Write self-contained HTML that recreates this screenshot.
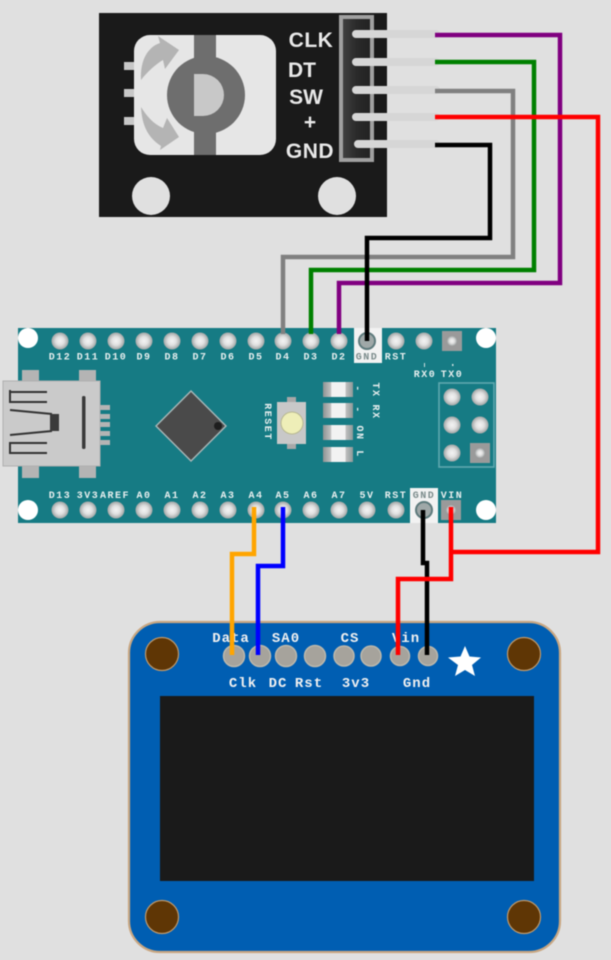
<!DOCTYPE html>
<html><head><meta charset="utf-8"><style>
html,body{margin:0;padding:0;background:#e0e0e0;width:611px;height:960px;overflow:hidden}
svg{display:block;filter:blur(.6px)}
.e{font:bold 21px "Liberation Sans",sans-serif;fill:#e8e8e8;text-anchor:middle}
.n{font:bold 10px "Liberation Mono",monospace;fill:#e6eeee;text-anchor:middle;letter-spacing:1.5px}
.o{font:bold 14px "Liberation Mono",monospace;fill:#f0f0f0;text-anchor:middle;letter-spacing:1px}
.w{fill:none;stroke-width:4.5;stroke-linejoin:miter}
</style></head><body>
<svg width="611" height="960" viewBox="0 0 611 960" xmlns="http://www.w3.org/2000/svg">
<defs>
<radialGradient id="p"><stop offset="0" stop-color="#f4f4f4"/><stop offset=".5" stop-color="#e0e0e0"/><stop offset="1" stop-color="#a0a4a4"/></radialGradient>
<linearGradient id="h" x1="0" x2="1"><stop offset="0" stop-color="#444"/><stop offset=".5" stop-color="#2a2a2a"/><stop offset="1" stop-color="#222"/></linearGradient>
<linearGradient id="l" x1="0" x2="1"><stop offset="0" stop-color="#8e9292"/><stop offset=".27" stop-color="#c4c4c4"/><stop offset=".28" stop-color="#f2f2f2"/><stop offset=".75" stop-color="#f2f2f2"/><stop offset=".76" stop-color="#c0c0c0"/><stop offset="1" stop-color="#8e9898"/></linearGradient>
</defs>
<rect width="611" height="960" fill="#e0e0e0"/>

<!-- Encoder -->
<rect x="99" y="13" width="288" height="204" fill="#1a1a1a"/>
<g fill="#c8c8c8"><rect x="124" y="62" width="11" height="8"/><rect x="124" y="89" width="11" height="8"/><rect x="124" y="117" width="11" height="8"/></g>
<rect x="134" y="35" width="142" height="120" rx="16" fill="#e6e6e6"/>
<rect x="194" y="35" width="22" height="120" fill="#6e6e6e"/>
<circle cx="206" cy="95" r="39" fill="#6e6e6e"/>
<path d="M194 74h9a21 21 0 0 1 0 42h-9z" fill="#c8c8c8"/>
<path d="M141 80C140 60 148 47 160 43L158 36 179 50 165 69 163 60C156 64 147 72 141 80Z" fill="#b4b4b4"/>
<path d="M141 107C142 128 150 139 161 146L160 150 179 137 167 118 163 128C153 124 146 115 141 107Z" fill="#b4b4b4"/>
<circle cx="151" cy="196" r="19" fill="#e0e0e0"/><circle cx="337" cy="196" r="19" fill="#e0e0e0"/>
<text class="e" x="311" y="47" style="letter-spacing:.5px">CLK</text>
<text class="e" x="302" y="77">DT</text>
<text class="e" x="306" y="104">SW</text>
<text class="e" x="310" y="129">+</text>
<text class="e" x="310" y="158" style="letter-spacing:.5px">GND</text>
<rect x="341" y="17" width="31" height="143" fill="url(#h)" stroke="#a0a0a0" stroke-width="4"/>
<g fill="#a0a0a0"><rect x="370" y="15" width="4" height="147"/></g>
<g stroke="#d6d6d6" stroke-width="8" stroke-linecap="round"><path d="M356 34H436M356 62H436M356 90H436M356 117H436M358 144H436"/></g>

<!-- Nano -->
<rect x="18" y="328" width="478" height="195" fill="#167b84"/>
<rect x="354" y="328" width="28" height="35" fill="#f2f2f2"/>
<rect x="410" y="488" width="28" height="35" fill="#f2f2f2"/>
<g fill="#fff"><circle cx="28" cy="338" r="10"/><circle cx="28" cy="510" r="10"/><circle cx="486" cy="338" r="10"/><circle cx="486" cy="510" r="10"/></g>
<g fill="url(#p)">
<circle cx="60" cy="341" r="8.5"/><circle cx="88" cy="341" r="8.5"/><circle cx="116" cy="341" r="8.5"/><circle cx="144" cy="341" r="8.5"/><circle cx="172" cy="341" r="8.5"/><circle cx="200" cy="341" r="8.5"/><circle cx="228" cy="341" r="8.5"/><circle cx="256" cy="341" r="8.5"/><circle cx="283" cy="341" r="8.5"/><circle cx="311" cy="341" r="8.5"/><circle cx="339" cy="341" r="8.5"/><circle cx="396" cy="341" r="8.5"/><circle cx="424" cy="341" r="8.5"/>
<circle cx="60" cy="510" r="8.5"/><circle cx="88" cy="510" r="8.5"/><circle cx="116" cy="510" r="8.5"/><circle cx="144" cy="510" r="8.5"/><circle cx="172" cy="510" r="8.5"/><circle cx="200" cy="510" r="8.5"/><circle cx="228" cy="510" r="8.5"/><circle cx="256" cy="510" r="8.5"/><circle cx="283" cy="510" r="8.5"/><circle cx="311" cy="510" r="8.5"/><circle cx="339" cy="510" r="8.5"/><circle cx="367" cy="510" r="8.5"/><circle cx="396" cy="510" r="8.5"/>
<circle cx="452" cy="397" r="8.5"/><circle cx="480" cy="397" r="8.5"/><circle cx="452" cy="425" r="8.5"/><circle cx="480" cy="425" r="8.5"/><circle cx="452" cy="453" r="8.5"/>
</g>
<g fill="#9a9a9a"><rect x="442" y="331" width="20" height="20"/><rect x="441" y="500" width="20" height="20"/><rect x="470" y="443" width="20" height="20"/></g>
<g fill="url(#p)"><circle cx="452" cy="341" r="5"/><circle cx="451" cy="510" r="5"/><circle cx="480" cy="453" r="5"/></g>
<circle cx="367" cy="341" r="8" fill="#9fa8a8" stroke="#5d7a7c" stroke-width="2"/>
<circle cx="424" cy="510" r="8" fill="#9fa8a8" stroke="#5d7a7c" stroke-width="2"/>
<rect x="439" y="383" width="55" height="84" fill="none" stroke="#5fa8ae" stroke-width="1.6"/>
<g fill="#cfe0e0"><rect x="424" y="363" width="1" height="4"/><rect x="452" y="364" width="1.500" height="2"/></g>
<text class="n" x="60" y="359.500">D12</text><text class="n" x="88" y="359.500">D11</text><text class="n" x="116" y="359.500">D10</text><text class="n" x="144" y="359.500">D9</text><text class="n" x="172" y="359.500">D8</text><text class="n" x="200" y="359.500">D7</text><text class="n" x="228" y="359.500">D6</text><text class="n" x="256" y="359.500">D5</text><text class="n" x="283" y="359.500">D4</text><text class="n" x="311" y="359.500">D3</text><text class="n" x="339" y="359.500">D2</text><text class="n" x="396" y="359.500">RST</text>
<text class="n" x="425" y="377">RX0</text><text class="n" x="452" y="377">TX0</text>
<text class="n" x="60" y="498">D13</text><text class="n" x="88" y="498">3V3</text><text class="n" x="115" y="498">AREF</text><text class="n" x="144" y="498">A0</text><text class="n" x="172" y="498">A1</text><text class="n" x="200" y="498">A2</text><text class="n" x="228" y="498">A3</text><text class="n" x="256" y="498">A4</text><text class="n" x="283" y="498">A5</text><text class="n" x="311" y="498">A6</text><text class="n" x="339" y="498">A7</text><text class="n" x="367" y="498">5V</text><text class="n" x="396" y="498">RST</text><text class="n" x="452" y="498">VIN</text>
<text class="n" x="367" y="359.500" style="fill:#7c8c8c">GND</text>
<text class="n" x="424" y="498" style="fill:#7c8c8c">GND</text>

<!-- USB -->
<g fill="#b4b4b4"><rect x="22" y="370" width="17" height="108"/><rect x="79" y="370" width="17" height="108"/></g>
<g fill="#b4b4b4"><rect x="100" y="405" width="10" height="5"/><rect x="100" y="414" width="10" height="5"/><rect x="100" y="422" width="10" height="5"/><rect x="100" y="431" width="10" height="5"/><rect x="100" y="440" width="10" height="5"/></g>
<rect x="3" y="381" width="97" height="85" fill="#cacaca" stroke="#b0b0b0"/>
<path d="M47 392H10V402H47M10 390v13M47 443H10V453H47M10 442v12" fill="none" stroke="#333" stroke-width="2"/>
<path d="M10 410L52 414M10 435L52 431" stroke="#333" stroke-width="2"/>
<rect x="50" y="414" width="9" height="17" fill="#3a3a3a"/>
<rect x="82" y="396" width="3.5" height="53" rx="1.5" fill="#3a3a3a"/>

<!-- Chip -->
<path d="M191 390L227 426 191 462 155 426Z" fill="#a8b8b8"/>
<path d="M191 392L225 426 191 460 157 426Z" fill="#4a4a4a"/>
<circle cx="218" cy="426" r="4" fill="#1e1e1e"/>

<!-- Button -->
<rect x="287" y="397" width="9" height="52" fill="#a8a8a8"/>
<rect x="277" y="402" width="29" height="42" fill="#c8c8c8"/>
<circle cx="292" cy="423" r="11" fill="#eeeeb8" stroke="#b8b890"/>
<text class="n" transform="translate(268 422) rotate(90)" y="3">RESET</text>

<!-- LEDs -->
<g fill="url(#l)"><rect x="323" y="382" width="30" height="15"/><rect x="323" y="403" width="30" height="15"/><rect x="323" y="425" width="30" height="15"/><rect x="323" y="447" width="30" height="15"/></g>
<text class="n" transform="translate(358 389) rotate(90)" y="3">-</text><text class="n" transform="translate(358 410) rotate(90)" y="3">-</text><text class="n" transform="translate(360 433) rotate(90)" y="3">ON</text><text class="n" transform="translate(360 454) rotate(90)" y="3">L</text><text class="n" transform="translate(376 390) rotate(90)" y="3">TX</text><text class="n" transform="translate(376 412) rotate(90)" y="3">RX</text>

<!-- OLED -->
<rect x="129" y="622" width="431" height="330" rx="31" fill="#005eb2" stroke="#c9a782" stroke-width="2.2"/>
<rect x="160" y="696" width="374" height="185" fill="#1a1a1a"/>
<g fill="#5f3605" stroke="#c09a6c" stroke-width="1.2"><circle cx="162" cy="654" r="16.5"/><circle cx="524" cy="654" r="16.5"/><circle cx="162" cy="917" r="16.5"/><circle cx="524" cy="917" r="16.5"/></g>
<g fill="#a6a39c" stroke="#bcb8ac" stroke-width="1.5"><circle cx="234" cy="656" r="10.5"/><circle cx="260" cy="656" r="10.5"/><circle cx="286" cy="656" r="10.5"/><circle cx="315" cy="656" r="10.5"/><circle cx="344" cy="656" r="10"/><circle cx="371" cy="656" r="10"/><circle cx="400" cy="656" r="9.5"/><circle cx="428" cy="656" r="9.5"/></g>
<path d="M465 646L469.500 656.500 481 657.500 472 665 475 676 465 670 455 676 458 665 448 657.500 460.500 656.500Z" fill="#fff"/>
<text class="o" x="231" y="642">Data</text><text class="o" x="286" y="642">SA0</text><text class="o" x="350" y="642">CS</text><text class="o" x="406" y="642">Vin</text>
<text class="o" x="243" y="687">Clk</text><text class="o" x="278" y="687">DC</text><text class="o" x="309" y="687">Rst</text><text class="o" x="356" y="687">3v3</text><text class="o" x="417" y="687">Gnd</text>

<!-- Wires -->
<path class="w" stroke="#808080" d="M435 91H513V257H283V334"/>
<path class="w" stroke="#008000" d="M435 62H534V270H311V334"/>
<path class="w" stroke="#800080" d="M435 35H560V283H339V334"/>
<path class="w" stroke="#000" d="M435 145H490V238H367V341"/>
<path class="w" stroke="#ff0000" d="M435 117H598V552H451"/>
<path class="w" stroke="#ffa500" d="M254 507V554H232V655"/>
<path class="w" stroke="#0000ff" d="M283 507V566H258V655"/>
<path class="w" stroke="#000" d="M423 510V563H427V655"/>
<path class="w" stroke="#ff0000" d="M451 507V579H398V655"/>
</svg>
</body></html>
